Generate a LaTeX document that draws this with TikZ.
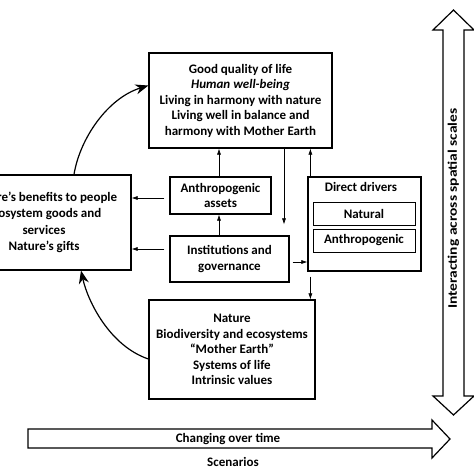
\documentclass[tikz,border=0pt]{standalone}
\usepackage{fontspec}
\setmainfont{Carlito}
\usepackage{tikz}
\usetikzlibrary{arrows.meta}

\begin{document}
\begin{tikzpicture}%
  [x=1pt,y=-1pt,font=\fontsize{13}{15.5}\selectfont\bfseries]
  \tikzstyle{big box}=[rectangle,draw,line width=1.2pt,align=center,inner sep=0]
  \tikzstyle{sub box}=[rectangle,draw,line width=0.7pt,align=center,inner sep=0]
  \tikzstyle{thin arrow}=[line width=0.6pt,-{Latex[length=6pt,width=4pt]}]
  \tikzstyle{loop arrow}=[line width=1.2pt,-{Stealth[length=13pt,width=10pt]}]
  \tikzstyle{wide arrow}=[line width=1.2pt,fill=white,line join=miter]
  \useasboundingbox (0,0) rectangle (474,474);
  \clip (0,0) rectangle (474,474);
  \node(good)[big box,minimum width=183pt,minimum height=95pt] at (240.5,100.5)
    {Good quality of life\\ \textit{Human well-being}\\ Living in harmony with nature\\
     Living well in balance and\\ harmony with Mother Earth};
  \node(assets)[big box,minimum width=101pt,minimum height=37pt] at (220.5,195.5)
    {Anthropogenic\\ assets};
  \node(inst)[big box,minimum width=119pt,minimum height=46pt] at (229.5,259)
    {Institutions and\\ governance};
  \node(benefits)[big box,minimum width=174pt,minimum height=95pt,
    font=\fontsize{13}{16.5}\selectfont\bfseries] at (44,222.5)
    {Nature’s benefits to people\\ Ecosystem goods and\\ services\\ Nature’s gifts};
  \node(drivers)[big box,minimum width=113pt,minimum height=94pt] at (364.5,224) {};
  \node(drvlabel) at (361,187) {Direct drivers};
  \node(natural)[sub box,minimum width=102pt,minimum height=23pt] at (364,213.5) {Natural};
  \node(anthro)[sub box,minimum width=102pt,minimum height=23pt] at (364,240.5) {Anthropogenic};
  \node(nature)[big box,minimum width=166pt,minimum height=99pt] at (232,349.5)
    {Nature\\ Biodiversity and ecosystems\\ “Mother Earth”\\ Systems of life\\ Intrinsic values};
  \draw[thin arrow] ([xshift=-1.5pt]assets.north) -- ([xshift=-1.5pt]assets.north |- good.south);
  \draw[thin arrow] ([xshift=-1.5pt]inst.north -| assets.north) -- ([xshift=-1.5pt]assets.south);
  \draw[thin arrow,shorten >=11pt] ([xshift=43.5pt]good.south) -- ([xshift=43.5pt]good.south |- inst.north);
  \draw[thin arrow] ([xshift=3pt]drivers.north west) -- ([xshift=3pt]drivers.north west |- good.south);
  \draw[thin arrow,shorten <=5pt] ([xshift=3pt]drivers.south west) -- ([xshift=3pt]drivers.south west |- nature.north);
  \draw[thin arrow,shorten <=3pt] ([yshift=-3pt]inst.east) -- ([yshift=-3pt]inst.east -| drivers.west);
  \draw[thin arrow,shorten <=5pt] ([yshift=-2.5pt]assets.west) -- ([yshift=-2.5pt]assets.west -| benefits.east);
  \draw[thin arrow,shorten <=5pt] ([yshift=10pt]inst.west) -- ([yshift=10pt]inst.west -| benefits.east);
  \draw[loop arrow] ([xshift=30pt]benefits.north) .. controls (80,138) and (108,98) .. ([yshift=15pt]good.west);
  \draw[loop arrow] ([yshift=-9.5pt]nature.west) .. controls (110,346) and (88,302) .. ([xshift=37pt]benefits.south);
  \draw[wide arrow] (443,30) -- (433,30) -- (453.5,10) -- (474,30) -- (464,30)
    -- (464,396) -- (474,396) -- (453.5,415) -- (433,396) -- (443,396) -- cycle;
  \node(space)[rotate=90,xscale=1.19] at (453.5,208.5) {Interacting across spatial scales};
  \draw[wide arrow] (28,429) -- (432,429) -- (432,420) -- (450,439) -- (432,458)
    -- (432,448) -- (28,448) -- cycle;
  \node(time) at (228,439) {Changing over time};
  \node(scen) at (233,462) {Scenarios};
\end{tikzpicture}
\end{document}
